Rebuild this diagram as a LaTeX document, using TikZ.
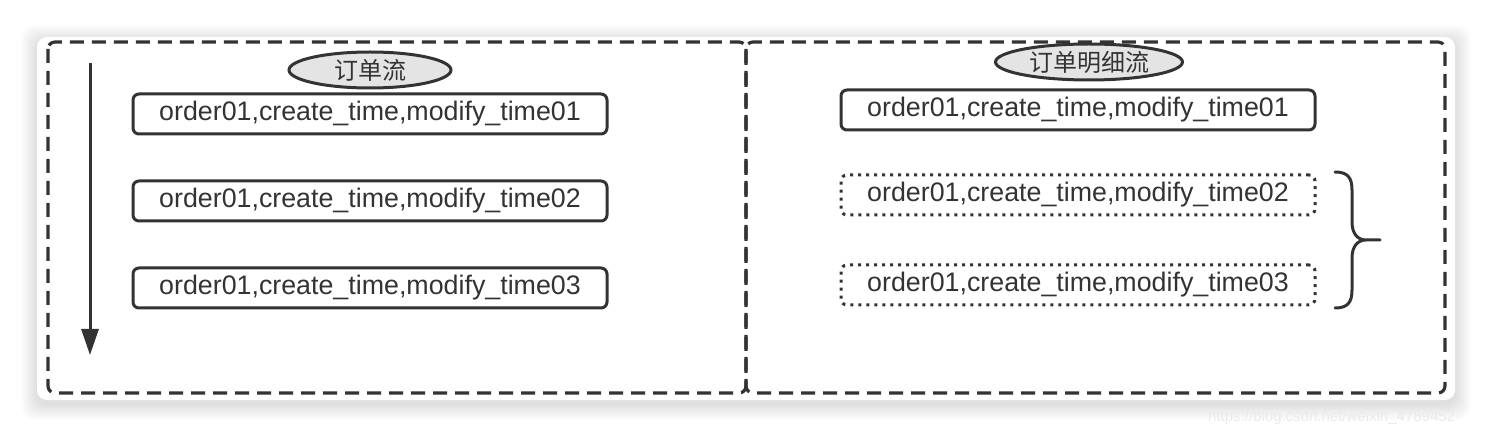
\documentclass[tikz,border=0pt]{standalone}
\usepackage{fontspec}
\setmainfont{Liberation Sans}
\newfontfamily\cjk{Noto Sans CJK SC}
\usetikzlibrary{arrows.meta,shapes.geometric}
\definecolor{ink}{HTML}{333333}
\definecolor{pill}{HTML}{E4E4E4}
\begin{document}
\begin{tikzpicture}[x=1pt,y=-1pt,
  frame/.style={draw=ink,line width=3.2pt,dash pattern=on 14pt off 8pt,rounded corners=7pt},
  rec/.style={draw=ink,line width=3pt,rounded corners=6pt,minimum width=474pt,minimum height=40pt,
    font=\fontsize{26.8}{30}\selectfont,text=ink,inner sep=0pt},
  drec/.style={rec,dash pattern=on 3pt off 5pt},
  tag/.style={ellipse,draw=ink,fill=pill,line width=3pt,minimum height=36pt,
    font=\cjk\fontsize{24}{28}\selectfont,text=ink,inner sep=0pt}]
\useasboundingbox (0,0) rectangle (1492,438);
\clip (0,0) rectangle (1492,438);
\fill[white] (0,0) rectangle (1492,438);
% card shadow
\foreach \i in {1,...,16}{
  \fill[black,opacity=0.009,rounded corners=12pt] (37-\i,37-\i+4) rectangle (1455+\i,400+\i+4);
}
\fill[white,rounded corners=10pt] (37,37) rectangle (1455,400);
% frames
\draw[frame] (48,42) rectangle (746,393);
\draw[frame] (746,42) rectangle (1445,393);
% left column
\node[tag,minimum width=162pt] (t1) at (370,70) {订单流};
\node[rec] (l1) at (370,114) {order01,create\_time,modify\_time01};
\node[rec] (l2) at (370,201) {order01,create\_time,modify\_time02};
\node[rec] (l3) at (370,288) {order01,create\_time,modify\_time03};
\coordinate (as) at (90,63);
\coordinate (ae) at (90,355);
\draw[ink,line width=3pt,-{Triangle[length=26pt,width=17pt]}] (as) -- (ae);
% right column
\node[tag,minimum width=187pt] (t2) at (1089,62) {订单明细流};
\node[rec] (r1) at (1078,110) {order01,create\_time,modify\_time01};
\node[drec] (r2) at (1078,195) {order01,create\_time,modify\_time02};
\node[drec] (r3) at (1078,285) {order01,create\_time,modify\_time03};
% brace
\coordinate (b1) at (1335,172);
\coordinate (bt) at (1380,240);
\coordinate (b2) at (1335,308);
\draw[ink,line width=3pt,line cap=round,line join=round]
  (b1) .. controls (1348,172) and (1352,178) .. (1352,190)
  -- (1352,222) .. controls (1352,234) and (1358,240) .. (1366,240) -- (bt)
  (1366,240) .. controls (1358,240) and (1352,246) .. (1352,258)
  -- (1352,290) .. controls (1352,302) and (1348,308) .. (b2);
% watermark
\node[anchor=west,text=white!92!black,font=\fontsize{15}{18}\selectfont,inner sep=0pt] (wm) at (1208,418) {https://blog.csdn.net/weixin\_4789452};
\end{tikzpicture}
\end{document}
